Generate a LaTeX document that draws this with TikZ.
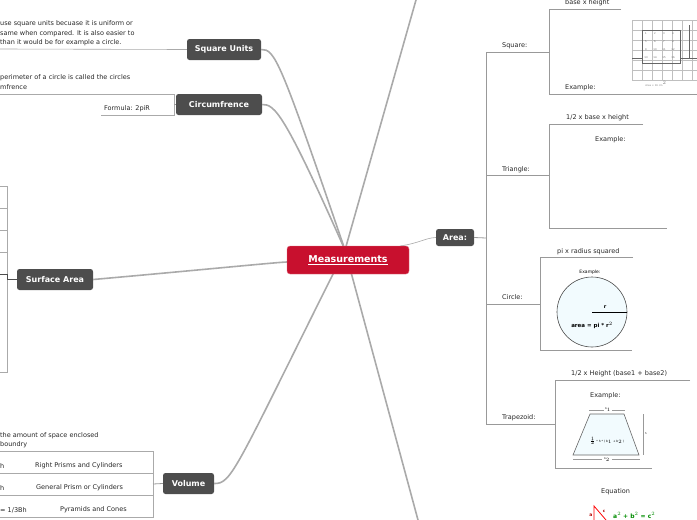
\documentclass[tikz,border=0pt]{standalone}
\usepackage{fontspec}
\setmainfont{DejaVu Sans}
\usetikzlibrary{calc}
\definecolor{nodegray}{HTML}{4D4D4D}
\definecolor{mainred}{HTML}{C8102E}
\definecolor{linegray}{HTML}{AAAAAA}
\definecolor{treegray}{HTML}{999999}
\begin{document}
\begin{tikzpicture}[x=1pt,y=-1pt,
  topic/.style={fill=nodegray,rounded corners=2.5pt,text=white,font=\bfseries\fontsize{8}{9}\selectfont,inner sep=0pt,minimum height=21pt},
  mainnode/.style={fill=mainred,draw=mainred!60,rounded corners=3pt,text=white,font=\bfseries\fontsize{9.5}{11}\selectfont,minimum width=122pt,minimum height=28pt,inner sep=0pt},
  txt/.style={font=\fontsize{6.5}{8}\selectfont,inner sep=0pt,text=black!85},
  small/.style={font=\fontsize{4.5}{5}\selectfont,inner sep=0pt},
  conn/.style={draw=linegray,line width=1.6pt},
  thin/.style={draw=linegray,line width=0.6pt},
  tree/.style={draw=treegray,line width=0.8pt}]
\useasboundingbox (0,0) rectangle (697,520);
% central
\coordinate (c) at (345,250);
\node[topic,minimum width=74pt] (su) at (224,49.5) {Square Units};
\node[topic,minimum width=86pt] (ci) at (219,104.5) {Circumfrence};
\node[topic,minimum width=76pt] (sa) at (55,279.5) {Surface Area};
\node[topic,minimum width=51pt] (vo) at (188.5,483.5) {Volume};
\node[topic,minimum width=38pt,minimum height=17pt] (ar) at (455,237.5) {Area:};
\coordinate (up) at (416,0);
\coordinate (dn) at (418,520);
\coordinate (mw) at (287,262);
\coordinate (me) at (400,246);
\draw[conn] (c) -- (up);
\draw[conn] (c) -- (dn);
\draw[conn] (su.east) .. controls (275,49) and (280,60) .. (c);
\draw[conn] (ci.east) .. controls (275,104) and (285,115) .. (c);
\draw[conn] (sa.east) .. controls (200,270) and (280,262) .. (mw);
\draw[conn] (vo.east) .. controls (232,484) and (235,470) .. (c);
\draw[thin] (me) .. controls (420,243) and (425,238) .. (ar.west);
\node[mainnode] (m) at (348,260) {\underline{Measurements}};
% Square units text
\node[txt,anchor=west] (sut1) at (0,24) {use square units becuase it is uniform or};
\node[txt,anchor=west] (sut2) at (0,33.5) {same when compared. It is also easier to};
\node[txt,anchor=west] (sut3) at (0,43) {than it would be for example a circle.};
\coordinate (sul) at (0,49);
\draw[thin] (sul) -- (su.west);
% Circumfrence
\node[txt,anchor=west] (cit1) at (0,78) {perimeter of a circle is called the circles};
\node[txt,anchor=west] (cit2) at (0,87) {mfrence};
\coordinate (cb1) at (174,94); \coordinate (cb2) at (174,115);
\coordinate (cl1) at (0,94); \coordinate (cl2) at (101,115);
\draw[thin] (cl1) -- (cb1) -- (cb2) -- (cl2);
\draw[tree] (ci.west) -- (174,104.5);
\node[txt,anchor=west] (form) at (104,109) {Formula: 2piR};
% Surface area tree
\draw[thin] (0,186) -- (7,186) -- (7,372) -- (0,372);
\foreach \yy in {208,230,252} \draw[thin] (0,\yy) -- (7,\yy);
\draw[draw=black!70,line width=0.8pt] (0,274) -- (7,274) -- (7,279.5) -- (sa.west);
% Volume
\node[txt,anchor=west] (vt1) at (0,435.5) {the amount of space enclosed};
\node[txt,anchor=west] (vt2) at (0,444.5) {boundry};
\draw[thin] (0,451) -- (153,451) -- (153,517) -- (0,517);
\draw[thin] (0,473) -- (153,473);
\draw[thin] (0,495) -- (153,495);
\draw[tree] (153,484) -- (vo.west);
\node[txt,anchor=west] at (0,466) {h};
\node[txt,anchor=west] at (35,466) {Right Prisms and Cylinders};
\node[txt,anchor=west] at (0,488) {h};
\node[txt,anchor=west] at (36,488) {General Prism or Cylinders};
\node[txt,anchor=west] at (0,510) {= 1/3Bh};
\node[txt,anchor=west] at (60,510) {Pyramids and Cones};
% Area tree
\draw[tree] (ar.east) -- (486,238);
\draw[tree] (549,52) -- (486,52) -- (486,424) -- (555,424);
\draw[tree] (486,175) -- (549,175);
\draw[tree] (486,304) -- (540,304);
\node[txt,anchor=west] at (502,45.5) {Square:};
\node[txt,anchor=west] at (502,169.5) {Triangle:};
\node[txt,anchor=west] at (502,297.5) {Circle:};
\node[txt,anchor=west] at (502,417.5) {Trapezoid:};
% square
\draw[tree] (621,9) -- (549,9) -- (549,94) -- (697,94);
\node[txt,anchor=west] at (565,2.5) {base x height};
\node[txt,anchor=west] at (565,87.5) {Example:};
\begin{scope}[draw=black!25,line width=0.3pt]
\draw (632,20) rectangle (697,80);
\foreach \xx in {642,652,662,672,682,692} \draw (\xx,20) -- (\xx,80);
\foreach \yy in {30,40,50,60,70} \draw (632,\yy) -- (697,\yy);
\end{scope}
\draw[black!60,line width=0.5pt] (642,30) rectangle (680,63);
\draw[black!60,line width=0.5pt] (632,58) -- (642,58) (680,58) -- (697,58) (689,25) -- (689,58);
\foreach \r/\yy in {0/34,1/42,2/50,3/58}{
  \foreach \cc in {1,2,3,4}{
    \pgfmathtruncatemacro{\v}{\r*4+\cc}
    \node[small,font=\fontsize{2.5}{3}\selectfont,text=black!60] at (637+\cc*9,\yy) {\v};}}
\node[small,font=\fontsize{2.5}{3}\selectfont,text=black!50] at (656,84) {Area = 16 cm$^2$};
% triangle
\draw[tree] (643,124) -- (549,124) -- (549,228) -- (667,228);
\node[txt,anchor=west] at (566,117.5) {1/2 x base x height};
\node[txt,anchor=west] at (595,139.5) {Example:};
% circle
\draw[tree] (633,257) -- (540,257) -- (540,350) -- (632,350);
\node[txt,anchor=west] at (557,251.5) {pi x radius squared};
\draw[black!70,fill=cyan!5,line width=0.6pt] (592,312) circle (35);
\node[small] at (590,272) {Example:};
\draw[black,line width=0.6pt] (592,312) -- (627,312);
\node[small,font=\bfseries\fontsize{5}{6}\selectfont,text=black] at (605,307) {r};
\node[small,font=\bfseries\fontsize{5.5}{6}\selectfont,text=black] at (592,325) {area = pi * r$^2$};
% trapezoid
\draw[tree] (690,380) -- (555,380) -- (555,468) -- (652,468);
\node[txt,anchor=west] at (571,373.5) {1/2 x Height (base1 + base2)};
\node[txt,anchor=west] at (590,395.5) {Example:};
\draw[black!60,fill=cyan!5,line width=0.6pt] (590,414) -- (624,414) -- (639,455) -- (573,455) -- cycle;
\draw[black!40,line width=0.4pt] (589,410) -- (604,410) (612,410) -- (625,410);
\draw[black!40,line width=0.4pt] (573,459) -- (602,459) (612,459) -- (640,459);
\draw[black!40,line width=0.4pt] (643,414) -- (643,455);
\node[small,font=\fontsize{2.5}{3}\selectfont] at (608,409.5) {b$_1$};
\node[small,font=\fontsize{2.5}{3}\selectfont] at (607,459.5) {b$_2$};
\node[small,font=\fontsize{2.5}{3}\selectfont] at (646,434) {h};
\node[small,font=\fontsize{3}{3}\selectfont] at (607,441) {$\frac12$ * h * ( b$_1$ + b$_2$ )};
% equation
\node[txt,anchor=west] at (601,491.5) {Equation};
\draw[red,line width=0.8pt] (594,520) -- (594,506) -- (606,520);
\node[small,font=\bfseries\fontsize{4.5}{5}\selectfont,text=red!70!black] at (591,515) {a};
\node[small,font=\bfseries\fontsize{4}{5}\selectfont,text=red!70!black] at (604,511) {c};
\node[small,font=\bfseries\fontsize{6}{7}\selectfont,text=green!55!black,anchor=west] at (613,515.5) {a$^2$ + b$^2$ = c$^2$};
\end{tikzpicture}
\end{document}
